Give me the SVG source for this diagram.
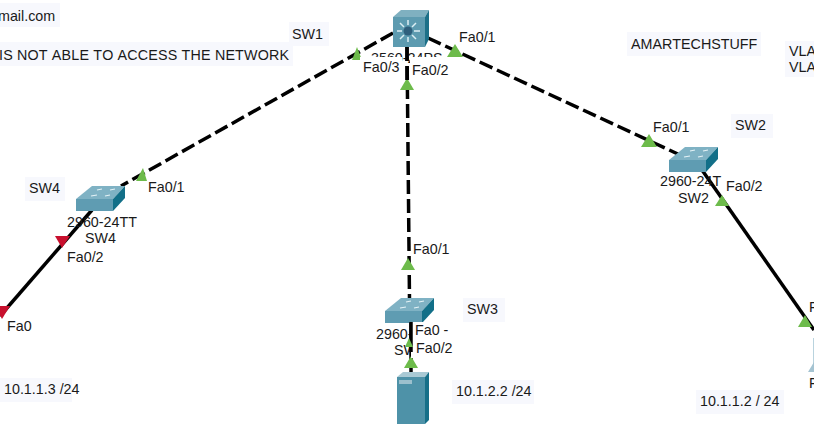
<svg xmlns="http://www.w3.org/2000/svg" width="814" height="427" viewBox="0 0 814 427">
<style>
text{font-family:"Liberation Sans",Arial,sans-serif;font-size:14.300px;font-kerning:none;fill:#1a1a1a}
.bg{fill:#f7f8fd}
.w{fill:#fff}
.d{stroke:#000;stroke-width:3.5;fill:none;stroke-dasharray:14 5}
.s{stroke:#000;stroke-width:3.5;fill:none}
.g{fill:#6dbb4b}
.r{fill:#c8102e}
</style>
<defs>
<g id="sw">
<path d="M0 13L16 0H49L37 13Z" fill="#7fb2c4"/>
<path d="M0 13H37V25H0Z" fill="#5f9cb2"/>
<path d="M37 13L49 0V12L37 25Z" fill="#126f88"/>
<path d="M15 10l6-1M29 10l5-1M21 4l5-1M34 4l5-1" stroke="#e4f2f6" stroke-width="1.2"/>
</g>
</defs>
<rect class="bg" x="0" y="3" width="60" height="24"/>
<rect class="bg" x="0" y="42" width="293" height="24"/>
<rect class="bg" x="289" y="22" width="40" height="24"/>
<rect class="bg" x="627" y="32" width="134" height="24"/>
<rect class="bg" x="785" y="41" width="29" height="36"/>
<rect class="bg" x="25" y="177" width="40" height="24"/>
<rect class="bg" x="463" y="298" width="42" height="24"/>
<rect class="bg" x="731" y="114" width="42" height="24"/>
<rect class="bg" x="0" y="378" width="72" height="24"/>
<rect class="bg" x="452" y="380" width="82" height="24"/>
<rect class="bg" x="696" y="390" width="88" height="24"/>
<g id="connectors">
<path class="d" d="M393 33L121 186"/>
<path class="d" d="M428 38L680 155"/>
<path class="d" d="M407 47L409.500 300"/>
<path class="s" d="M92 210L0 316"/>
<path class="s" d="M411 320V372"/>
<path class="s" d="M702 170L814 330"/>
<path class="g" d="M357 47L362 60H352Z"/>
<path class="g" d="M407 78L414 90H400Z"/>
<path class="g" d="M455 44L463 57H447Z"/>
<path class="g" d="M143 168L147 181H136Z"/>
<path class="g" d="M649 134L657 147H641Z"/>
<path class="g" d="M408 258L415 270H401Z"/>
<path class="g" d="M722 195L729 206H715Z"/>
<path class="g" d="M411 356L418 368H404Z"/>
<path class="g" d="M805 315L812 327H798Z"/>
<path class="r" d="M55 236H70L62 248Z"/>
<path class="r" d="M-5 306H10L2 319Z"/>
</g>
<g id="SW1">
<text x="371" y="63">3560-24PS</text>
<path d="M393 17L401 10H429L425 17Z" fill="#7fb0c0"/>
<path d="M393 17H425V47H393Z" fill="#5d9bb0"/>
<path d="M425 17L429 10V39L425 47Z" fill="#1c7088"/>
<g stroke="#dceef3" stroke-width="1.500"><path d="M408 20V25M408 37V42M397 31H402M414 31H420M400 23L404 27M416 23L412 27M400 39L404 35M416 39L412 35"/></g>
<circle cx="408" cy="31" r="4.500" fill="#2f5f7c"/>
<rect class="w" x="360" y="57" width="42" height="20"/>
<rect class="w" x="410" y="57" width="42" height="20"/>
<path class="s" d="M407 47V80" stroke-dasharray="14 5"/>
<text x="363" y="72">Fa0/3</text>
<text x="412" y="75">Fa0/2</text>
<text x="459" y="42">Fa0/1</text>
<text x="292" y="39">SW1</text>
</g>
<g id="SW4">
<use href="#sw" x="76" y="186"/>
<text x="67" y="227">2960-24TT</text>
<text x="85" y="243">SW4</text>
<text x="29" y="193">SW4</text>
<text x="148" y="192">Fa0/1</text>
<text x="67" y="262">Fa0/2</text>
</g>
<g id="SW2">
<use href="#sw" x="669" y="147"/>
<text x="660" y="186">2960-24T</text>
<text x="678" y="203">SW2</text>
<text x="735" y="130">SW2</text>
<text x="653" y="132">Fa0/1</text>
<text x="726" y="191">Fa0/2</text>
</g>
<g id="SW3">
<use href="#sw" x="385" y="298"/>
<text x="376" y="339">2960-24TT</text>
<text x="394" y="355">SW3</text>
<rect class="w" x="411" y="322" width="42" height="18"/>
<rect class="w" x="411" y="340" width="44" height="18"/>
<path class="s" d="M411 322V352"/>
<path class="g" d="M409 338L413 347H405Z"/>
<text x="415" y="335">Fa0 -</text>
<text x="416" y="353">Fa0/2</text>
<text x="413" y="254">Fa0/1</text>
<text x="467" y="314">SW3</text>
</g>
<g id="server">
<path d="M397 377L403 372H429L425 377Z" fill="#a9c9d4"/>
<path d="M397 377H425V424H397Z" fill="#4e92a8"/>
<path d="M425 377L429 372V420L425 424Z" fill="#166f88"/>
<rect x="399" y="380" width="13" height="4" fill="#9cc0cd"/>
<text x="456" y="396">10.1.2.2 /24</text>
</g>
<g id="PC-left">
<text x="7" y="331">Fa0</text>
<text x="4" y="394">10.1.1.3 /24</text>
</g>
<g id="PC-right">
<rect x="813" y="338" width="1" height="30" fill="#b9d3de"/>
<path d="M808 372L814 362V372Z" fill="#a5c4d2"/>
<text x="809" y="312">F</text>
<text x="809" y="388">F</text>
<text x="700" y="406">10.1.1.2 / 24</text>
</g>
<g id="notes">
<text x="-2" y="21">mail.com</text>
<text x="-1" y="60" textLength="290">IS NOT ABLE TO ACCESS THE NETWORK</text>
<text x="631" y="49">AMARTECHSTUFF</text>
<text x="789" y="56">VLA</text>
<text x="789" y="72">VLA</text>
</g>
</svg>
